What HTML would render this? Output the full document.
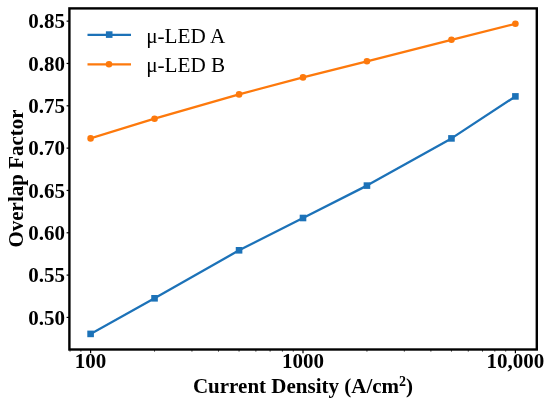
<!DOCTYPE html>
<html><head><meta charset="utf-8"><style>
html,body{margin:0;padding:0;background:#fff;}
body{width:550px;height:403px;overflow:hidden;}
svg{display:block;}
.t{font-family:"Liberation Serif",serif;font-weight:bold;font-size:21px;fill:#000;}
.a{font-family:"Liberation Serif",serif;font-weight:bold;font-size:21px;fill:#000;}
.l{font-family:"Liberation Serif",serif;font-size:21.2px;fill:#000;}
</style></head><body>
<svg width="550" height="403" viewBox="0 0 550 403">
<rect width="550" height="403" fill="#fff"/>
<polyline points="90.60,333.90 154.54,298.30 239.06,250.30 303.00,218.00 366.94,185.60 451.46,138.40 515.40,96.40" fill="none" stroke="#1c72b8" stroke-width="2.3" stroke-linejoin="round" stroke-linecap="square"/>
<polyline points="90.60,138.40 154.54,118.70 239.06,94.40 303.00,77.40 366.94,61.30 451.46,39.80 515.40,23.80" fill="none" stroke="#fd790c" stroke-width="2.3" stroke-linejoin="round" stroke-linecap="square"/>
<rect x="87.30" y="330.60" width="6.6" height="6.6" fill="#1c72b8"/>
<rect x="151.24" y="295.00" width="6.6" height="6.6" fill="#1c72b8"/>
<rect x="235.76" y="247.00" width="6.6" height="6.6" fill="#1c72b8"/>
<rect x="299.70" y="214.70" width="6.6" height="6.6" fill="#1c72b8"/>
<rect x="363.64" y="182.30" width="6.6" height="6.6" fill="#1c72b8"/>
<rect x="448.16" y="135.10" width="6.6" height="6.6" fill="#1c72b8"/>
<rect x="512.10" y="93.10" width="6.6" height="6.6" fill="#1c72b8"/>
<circle cx="90.60" cy="138.40" r="3.3" fill="#fd790c"/>
<circle cx="154.54" cy="118.70" r="3.3" fill="#fd790c"/>
<circle cx="239.06" cy="94.40" r="3.3" fill="#fd790c"/>
<circle cx="303.00" cy="77.40" r="3.3" fill="#fd790c"/>
<circle cx="366.94" cy="61.30" r="3.3" fill="#fd790c"/>
<circle cx="451.46" cy="39.80" r="3.3" fill="#fd790c"/>
<circle cx="515.40" cy="23.80" r="3.3" fill="#fd790c"/>
<rect x="69.40" y="8.40" width="467.40" height="341.10" fill="none" stroke="#000" stroke-width="2.4"/>
<line x1="66.60" y1="317.42" x2="69.40" y2="317.42" stroke="#000" stroke-width="1.2"/>
<text x="64.9" y="324.52" text-anchor="end" class="t">0.50</text>
<line x1="66.60" y1="275.10" x2="69.40" y2="275.10" stroke="#000" stroke-width="1.2"/>
<text x="64.9" y="282.20" text-anchor="end" class="t">0.55</text>
<line x1="66.60" y1="232.78" x2="69.40" y2="232.78" stroke="#000" stroke-width="1.2"/>
<text x="64.9" y="239.88" text-anchor="end" class="t">0.60</text>
<line x1="66.60" y1="190.45" x2="69.40" y2="190.45" stroke="#000" stroke-width="1.2"/>
<text x="64.9" y="197.55" text-anchor="end" class="t">0.65</text>
<line x1="66.60" y1="148.13" x2="69.40" y2="148.13" stroke="#000" stroke-width="1.2"/>
<text x="64.9" y="155.23" text-anchor="end" class="t">0.70</text>
<line x1="66.60" y1="105.80" x2="69.40" y2="105.80" stroke="#000" stroke-width="1.2"/>
<text x="64.9" y="112.90" text-anchor="end" class="t">0.75</text>
<line x1="66.60" y1="63.47" x2="69.40" y2="63.47" stroke="#000" stroke-width="1.2"/>
<text x="64.9" y="70.57" text-anchor="end" class="t">0.80</text>
<line x1="66.60" y1="21.15" x2="69.40" y2="21.15" stroke="#000" stroke-width="1.2"/>
<text x="64.9" y="28.25" text-anchor="end" class="t">0.85</text>
<line x1="90.60" y1="349.50" x2="90.60" y2="353.20" stroke="#000" stroke-width="1.2"/>
<text x="90.60" y="368.4" text-anchor="middle" class="t">100</text>
<line x1="303.00" y1="349.50" x2="303.00" y2="353.20" stroke="#000" stroke-width="1.2"/>
<text x="303.00" y="368.4" text-anchor="middle" class="t">1000</text>
<line x1="515.40" y1="349.50" x2="515.40" y2="353.20" stroke="#000" stroke-width="1.2"/>
<text x="515.40" y="368.4" text-anchor="middle" class="t">10,000</text>
<line x1="70.02" y1="349.50" x2="70.02" y2="351.70" stroke="#000" stroke-width="0.7"/>
<line x1="80.88" y1="349.50" x2="80.88" y2="351.70" stroke="#000" stroke-width="0.7"/>
<line x1="154.54" y1="349.50" x2="154.54" y2="351.70" stroke="#000" stroke-width="0.7"/>
<line x1="191.94" y1="349.50" x2="191.94" y2="351.70" stroke="#000" stroke-width="0.7"/>
<line x1="218.48" y1="349.50" x2="218.48" y2="351.70" stroke="#000" stroke-width="0.7"/>
<line x1="239.06" y1="349.50" x2="239.06" y2="351.70" stroke="#000" stroke-width="0.7"/>
<line x1="255.88" y1="349.50" x2="255.88" y2="351.70" stroke="#000" stroke-width="0.7"/>
<line x1="270.10" y1="349.50" x2="270.10" y2="351.70" stroke="#000" stroke-width="0.7"/>
<line x1="282.42" y1="349.50" x2="282.42" y2="351.70" stroke="#000" stroke-width="0.7"/>
<line x1="293.28" y1="349.50" x2="293.28" y2="351.70" stroke="#000" stroke-width="0.7"/>
<line x1="366.94" y1="349.50" x2="366.94" y2="351.70" stroke="#000" stroke-width="0.7"/>
<line x1="404.34" y1="349.50" x2="404.34" y2="351.70" stroke="#000" stroke-width="0.7"/>
<line x1="430.88" y1="349.50" x2="430.88" y2="351.70" stroke="#000" stroke-width="0.7"/>
<line x1="451.46" y1="349.50" x2="451.46" y2="351.70" stroke="#000" stroke-width="0.7"/>
<line x1="468.28" y1="349.50" x2="468.28" y2="351.70" stroke="#000" stroke-width="0.7"/>
<line x1="482.50" y1="349.50" x2="482.50" y2="351.70" stroke="#000" stroke-width="0.7"/>
<line x1="494.82" y1="349.50" x2="494.82" y2="351.70" stroke="#000" stroke-width="0.7"/>
<line x1="505.68" y1="349.50" x2="505.68" y2="351.70" stroke="#000" stroke-width="0.7"/>
<text x="303" y="392.5" text-anchor="middle" class="a">Current Density (A/cm<tspan dy="-7" font-size="14">2</tspan><tspan dy="7">)</tspan></text>
<text transform="translate(22.6,178.5) rotate(-90)" x="0" y="0" text-anchor="middle" class="a">Overlap Factor</text>
<line x1="87.5" y1="34.9" x2="131" y2="34.9" stroke="#1c72b8" stroke-width="2.3"/>
<rect x="105.90" y="31.30" width="6.6" height="6.6" fill="#1c72b8"/>
<line x1="87.5" y1="64.3" x2="131" y2="64.3" stroke="#fd790c" stroke-width="2.3"/>
<circle cx="109" cy="64.3" r="3.3" fill="#fd790c"/>
<text x="146.2" y="42.8" class="l">μ-LED A</text>
<text x="146.2" y="71.7" class="l">μ-LED B</text>
</svg>
</body></html>
